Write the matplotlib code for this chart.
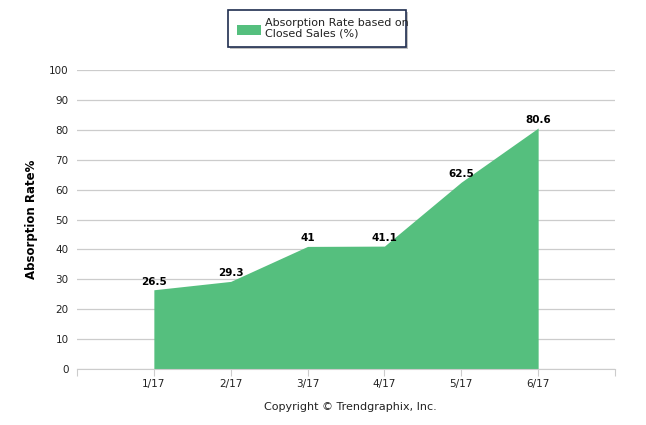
import matplotlib.pyplot as plt
from matplotlib.patches import Rectangle

# Data
months = ["1/17", "2/17", "3/17", "4/17", "5/17", "6/17"]
absorption = [26.5, 29.3, 41, 41.1, 62.5, 80.6]
y_ticks = [0, 10, 20, 30, 40, 50, 60, 70, 80, 90, 100]

green = "#55bf7e"
grid_col = "#cccccc"

fig = plt.figure(figsize=(6.46, 4.25), dpi=100)
ax = fig.add_axes([77 / 646, 56 / 425, 538 / 646, 299 / 425])

x = list(range(1, len(months) + 1))
ax.fill_between(x, absorption, 0, color=green, linewidth=0, zorder=2)

# value labels
for xi, v in zip(x, absorption):
    ax.text(xi, v + 1.0, f"{v:g}", ha="center", va="bottom", fontsize=7.5,
            fontweight="bold", color="black", zorder=3)

ax.set_xlim(0, 7)
ax.set_ylim(0, 100)
ax.set_xticks(range(0, 8))
ax.set_xticklabels([""] + months + [""], fontsize=7.5, color="#222222")
ax.set_yticks(y_ticks)
ax.set_yticklabels([str(t) for t in y_ticks], fontsize=7.5, color="#222222")

ax.yaxis.grid(True, color=grid_col, linewidth=0.9, zorder=0)
ax.set_axisbelow(True)
for side in ["top", "right", "left"]:
    ax.spines[side].set_visible(False)
ax.spines["bottom"].set_color(grid_col)
ax.tick_params(axis="y", length=0, pad=6)
ax.tick_params(axis="x", length=5, color=grid_col, pad=2)

ax.set_ylabel("Absorption Rate%", fontsize=8.5, fontweight="bold", labelpad=8)
fig.text(350 / 646, 1 - 407 / 425, "Copyright \u00a9 Trendgraphix, Inc.", ha="center",
         va="center", fontsize=8, color="#222222")

# legend box drawn by hand to match the boxed style with shadow
def px(xp, yp):
    return xp / 646, 1 - yp / 425

sx, sy = px(230, 49)
fig.patches.append(Rectangle((sx, sy), 178 / 646, 37 / 425, transform=fig.transFigure,
                             facecolor="#999999", edgecolor="none", alpha=0.6))
bx, by = px(228, 47)
fig.patches.append(Rectangle((bx, by), 178 / 646, 37 / 425, transform=fig.transFigure,
                             facecolor="white", edgecolor="#1f2d4f", linewidth=1.2))
kx, ky = px(237, 35)
fig.patches.append(Rectangle((kx, ky), 24 / 646, 10 / 425, transform=fig.transFigure,
                             facecolor=green, edgecolor="none"))
fig.text(265 / 646, 1 - 28 / 425, "Absorption Rate based on\nClosed Sales (%)", ha="left",
         va="center", fontsize=8, color="#222222", linespacing=1.1)

fig.savefig("out.png", dpi=100)
